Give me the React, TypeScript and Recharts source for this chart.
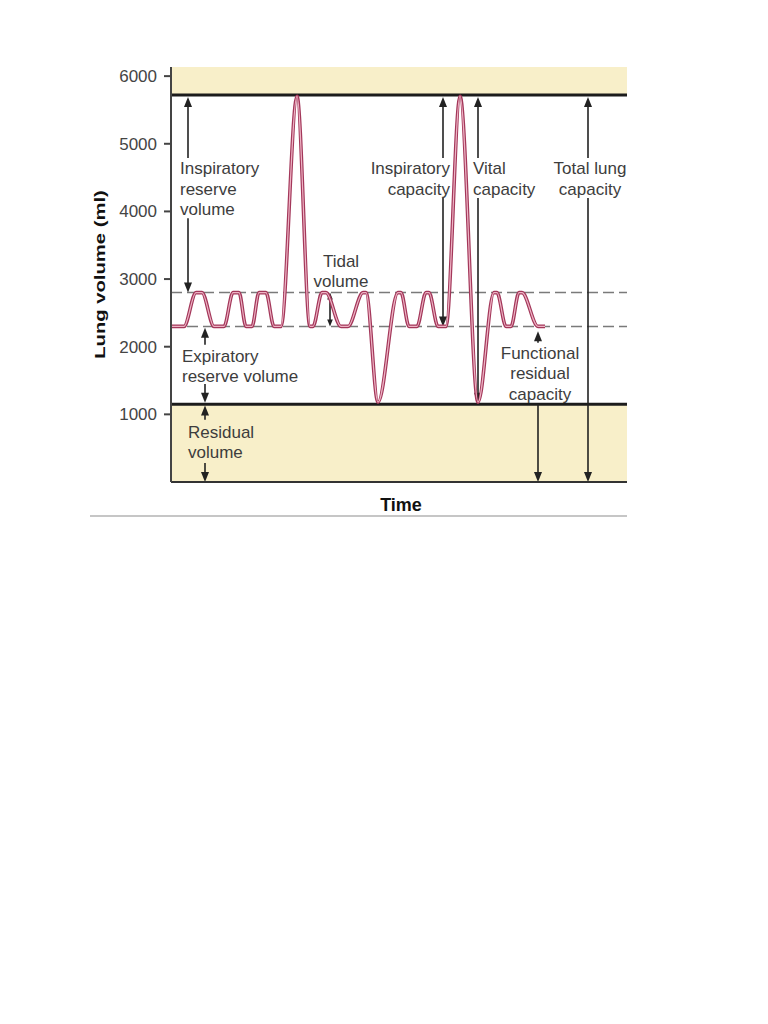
import { LineChart, Line, XAxis, YAxis, ReferenceArea, ReferenceLine, ReferenceDot } from "recharts";

// turning points of the spirogram trace: time (arbitrary units) and lung volume (ml)
const time = [0, 13, 25, 31, 43, 53, 62, 68, 75, 81, 88, 95, 103, 110, 126, 139, 142, 151, 155, 170, 177, 192, 195, 207, 227, 230, 238, 246, 255, 258, 267, 275, 289, 307, 323, 326, 335, 340, 348, 351, 367, 374];
const volume = [2300, 2300, 2800, 2800, 2300, 2300, 2800, 2800, 2300, 2300, 2800, 2800, 2300, 2300, 5700, 2300, 2300, 2800, 2800, 2300, 2300, 2800, 2800, 1180, 2800, 2800, 2300, 2300, 2800, 2800, 2300, 2300, 5700, 1180, 2800, 2800, 2300, 2300, 2800, 2800, 2300, 2300];

const yTicks = [1000, 2000, 3000, 4000, 5000, 6000];
const yMax = 6135;
const tMax = 456;

const totalLung = 5720;
const residual = 1150;
const endInspiration = 2800;
const endExpiration = 2300;

const data = time.map((t, i) => ({ t, v: volume[i] }));

// annotation arrows: x position, top / bottom ends and the gap left for the label
const arrows = [
  { t: 17, from: 5690, to: 2800, gap: [4790, 3900] },
  { t: 34, from: 2280, to: 1170, gap: [2030, 1450] },
  { t: 34, from: 1130, to: 0, gap: [920, 280] },
  { t: 159, from: 2800, to: 2300, gap: null },
  { t: 272, from: 5690, to: 2300, gap: [4790, 4200] },
  { t: 307, from: 5690, to: 1170, gap: [4790, 4200] },
  { t: 417, from: 5690, to: 0, gap: [4790, 4200] },
  { t: 367, from: 2230, to: 0, gap: [2060, 1150] },
];

const labels = [
  { t: 9, v: 4640, anchor: "start", lines: ["Inspiratory", "reserve", "volume"] },
  { t: 11, v: 1870, anchor: "start", lines: ["Expiratory", "reserve volume"] },
  { t: 17, v: 740, anchor: "start", lines: ["Residual", "volume"] },
  { t: 170, v: 3270, anchor: "middle", lines: ["Tidal", "volume"] },
  { t: 279, v: 4640, anchor: "end", lines: ["Inspiratory", "capacity"] },
  { t: 302, v: 4640, anchor: "start", lines: ["Vital", "capacity"] },
  { t: 419, v: 4640, anchor: "middle", lines: ["Total lung", "capacity"] },
  { t: 369, v: 1910, anchor: "middle", lines: ["Functional", "residual", "capacity"] },
];

const FONT = "'Liberation Sans', Arial, Helvetica, sans-serif";
const BEIGE = "#f8efc9";
const INK = "#222";

function arrowShape(heads: "up" | "down" | "both", size: number) {
  return (p: any) => {
    const x = p.x1;
    const top = Math.min(p.y1, p.y2);
    const bot = Math.max(p.y1, p.y2);
    const hw = size * 0.4;
    const up = heads !== "down";
    const down = heads !== "up";
    return (
      <g>
        <line x1={x} x2={x} y1={up ? top + size - 1 : top} y2={down ? bot - size + 1 : bot} stroke={INK} strokeWidth={1.6} />
        {up && <polygon points={`${x},${top} ${x - hw},${top + size} ${x + hw},${top + size}`} fill={INK} />}
        {down && <polygon points={`${x},${bot} ${x - hw},${bot - size} ${x + hw},${bot - size}`} fill={INK} />}
      </g>
    );
  };
}

function textBlock(lines: string[], anchor: string) {
  return (p: any) => (
    <text x={p.cx} y={p.cy + 6} textAnchor={anchor} fontSize={17} fontFamily={FONT} fill="#3d3d3d">
      {lines.map((s, i) => (
        <tspan key={i} x={p.cx} dy={i === 0 ? 0 : 20.5}>
          {s}
        </tspan>
      ))}
    </text>
  );
}

function YLabel(props: any) {
  const vb = props.viewBox;
  const cx = vb.x + 100;
  const cy = vb.y + vb.height / 2;
  return (
    <text transform={`translate(${cx},${cy}) rotate(-90) scale(1.35,1)`} textAnchor="middle" dominantBaseline="central" fontSize={15} fontWeight="bold" fontFamily={FONT} fill="#111">
      Lung volume (ml)
    </text>
  );
}

function XLabel(props: any) {
  const vb = props.viewBox;
  return (
    <text x={vb.x + vb.width / 2 + 2} y={vb.y + 29} textAnchor="middle" fontSize={18} fontWeight="bold" fontFamily={FONT} fill="#111">
      Time
    </text>
  );
}

export default function App() {
  const arrowLines: any[] = [];
  arrows.forEach((a, i) => {
    const small = a.from - a.to < 800;
    const size = small ? 7 : 10;
    if (a.gap) {
      arrowLines.push(
        <ReferenceLine key={`a${i}u`} segment={[{ x: a.t, y: a.from }, { x: a.t, y: a.gap[0] }]} shape={arrowShape("up", size)} />,
        <ReferenceLine key={`a${i}d`} segment={[{ x: a.t, y: a.gap[1] }, { x: a.t, y: a.to }]} shape={arrowShape("down", size)} />
      );
    } else {
      arrowLines.push(
        <ReferenceLine key={`a${i}`} segment={[{ x: a.t, y: a.from }, { x: a.t, y: a.to }]} shape={arrowShape("both", size)} />
      );
    }
  });

  return (
    <div style={{ position: "absolute", left: 0, top: 0, width: 700, height: 560, background: "#fff" }}>
      <LineChart width={640} height={530} data={data} margin={{ top: 67, right: 13, left: 0, bottom: 8 }}>
        <ReferenceArea y1={totalLung} y2={yMax} fill={BEIGE} fillOpacity={1} stroke="none" />
        <ReferenceArea y1={0} y2={residual} fill={BEIGE} fillOpacity={1} stroke="none" />
        <ReferenceLine y={endInspiration} stroke="#7a7a7a" strokeWidth={1.5} strokeDasharray="11 5" />
        <ReferenceLine y={endExpiration} stroke="#7a7a7a" strokeWidth={1.5} strokeDasharray="11 5" />
        <ReferenceLine y={totalLung} stroke="#1c1c1c" strokeWidth={3} />
        <ReferenceLine y={residual} stroke="#1c1c1c" strokeWidth={3} />
        {arrowLines}
        <XAxis
          dataKey="t"
          type="number"
          domain={[0, tMax]}
          tick={false}
          tickLine={false}
          axisLine={{ stroke: "#333", strokeWidth: 2 }}
          height={40}
          label={XLabel}
        />
        <YAxis
          type="number"
          domain={[0, yMax]}
          ticks={yTicks}
          interval={0}
          width={171}
          tickSize={7}
          tickMargin={7}
          axisLine={{ stroke: "#444", strokeWidth: 2 }}
          tickLine={{ stroke: "#444", strokeWidth: 2 }}
          tick={{ fontSize: 17, fill: "#444", fontFamily: FONT }}
          label={YLabel}
        />
        <Line type="monotone" dataKey="v" stroke="#a3375a" strokeWidth={3.6} dot={false} isAnimationActive={false} />
        <Line type="monotone" dataKey="v" stroke="#eeb3c4" strokeWidth={1.2} dot={false} isAnimationActive={false} />
        {labels.map((l, i) => (
          <ReferenceDot key={`l${i}`} x={l.t} y={l.v} r={0} shape={textBlock(l.lines, l.anchor)} />
        ))}
      </LineChart>
      <div style={{ position: "absolute", left: 90, top: 515, width: 537, height: 2, background: "#c6c6c6" }} />
    </div>
  );
}
